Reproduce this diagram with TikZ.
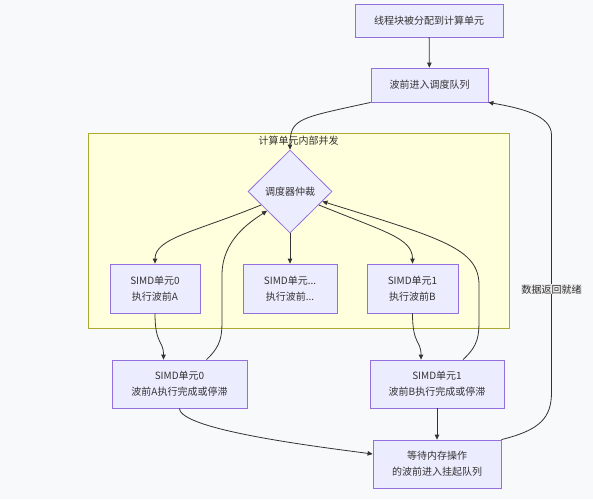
\documentclass[tikz,border=0pt]{standalone}
\usepackage{fontspec}
\setmainfont{Noto Sans CJK SC}
\usepackage{xcolor}
\usetikzlibrary{arrows.meta,shapes.geometric,calc}
\definecolor{bgc}{HTML}{F8F9FB}
\definecolor{nodef}{HTML}{ECECFF}
\definecolor{nodes}{HTML}{9370DB}
\definecolor{clusf}{HTML}{FFFFDE}
\definecolor{cluss}{HTML}{AAAA33}
\definecolor{linec}{HTML}{333333}
\definecolor{lblf}{HTML}{EBEBEB}

\begin{document}
\begin{tikzpicture}[x=1pt, y=-1pt,
  font=\fontsize{10}{16}\selectfont,
  box/.style={draw=nodes, fill=nodef, line width=0.8pt, align=center, inner sep=0pt, text=linec},
  flow/.style={draw=linec, line width=0.8pt, -{Triangle[length=5pt,width=4.5pt]}},
  lbl/.style={fill=lblf, inner sep=0.6pt, text=linec}]
% canvas of the reference
\fill[bgc] (0,0) rectangle (593,499);
\useasboundingbox (0,0) rectangle (593,499);

% ---- cluster : work inside one compute unit ----
\draw[draw=cluss, fill=clusf, line width=0.8pt] (88,133) rectangle (509,328);
\node[text=linec, anchor=north] (clustitle) at (298.5,133) {计算单元内部并发};

% ---- queue stage ----
\node[box, minimum width=148pt, minimum height=33pt] (assign) at (429,20.5) {线程块被分配到计算单元};
\node[box, minimum width=117pt, minimum height=34pt] (queue)  at (429.5,85) {波前进入调度队列};

% ---- arbiter and the SIMD units ----
\node[box, diamond, aspect=1, minimum width=84pt, minimum height=83pt] (arb) at (290,191.5) {调度器仲裁};
\node[box, minimum width=90pt, minimum height=49pt] (simd0) at (155,288.5)   {SIMD单元0\\执行波前A};
\node[box, minimum width=94pt, minimum height=49pt] (simdx) at (290,288.5)   {SIMD单元...\\执行波前...};
\node[box, minimum width=91pt, minimum height=49pt] (simd1) at (412.5,288.5) {SIMD单元1\\执行波前B};

% ---- results below the cluster ----
\node[box, minimum width=135pt, minimum height=48pt] (done0) at (179.5,384) {SIMD单元0\\波前A执行完成或停滞};
\node[box, minimum width=134pt, minimum height=48pt] (done1) at (437,384)   {SIMD单元1\\波前B执行完成或停滞};
\node[box, minimum width=128pt, minimum height=48pt] (wait)  at (437,464)   {等待内存操作\\的波前进入挂起队列};

% ---- connectors ----
\draw[flow] (assign) -- (queue);
\draw[flow] (queue.south west) .. controls (300,118) and (290,118) .. (arb.north);
\draw[flow] (arb.205) .. controls (195,232) and (155,238) .. (simd0.north);
\draw[flow] (arb.south) -- (simdx.north);
\draw[flow] (arb.335) .. controls (385,232) and (412.5,238) .. (simd1.north);
\draw[flow] (simd0.south) .. controls (155,345) and (163.5,340) .. ([xshift=-16pt]done0.north);
\draw[flow] (simd1.south) .. controls (412.5,345) and (421,340) .. ([xshift=-16pt]done1.north);
\draw[flow] ([xshift=27pt]done0.north) .. controls (222,345) and (222,335) .. (222,318)
  -- (222,275) .. controls (222,240) and (250,222) .. (arb.220);
\draw[flow] ([xshift=26pt]done1.north) .. controls (479,345) and (479,335) .. (479,318)
  -- (479,285) .. controls (479,248) and (440,238) .. (arb.343);
\draw[flow] (done0.south) .. controls (180,430) and (320,447) .. ([yshift=10pt]wait.west);
\draw[flow] (done1) -- (wait);
\draw[flow] (wait.north east) .. controls (540,430) and (551.5,418) .. (551.5,392)
  -- node[lbl, pos=0.4] (ready) {数据返回就绪} (551.5,135)
  .. controls (551.5,115) and (520,108) .. (queue.south east);
\end{tikzpicture}
\end{document}
